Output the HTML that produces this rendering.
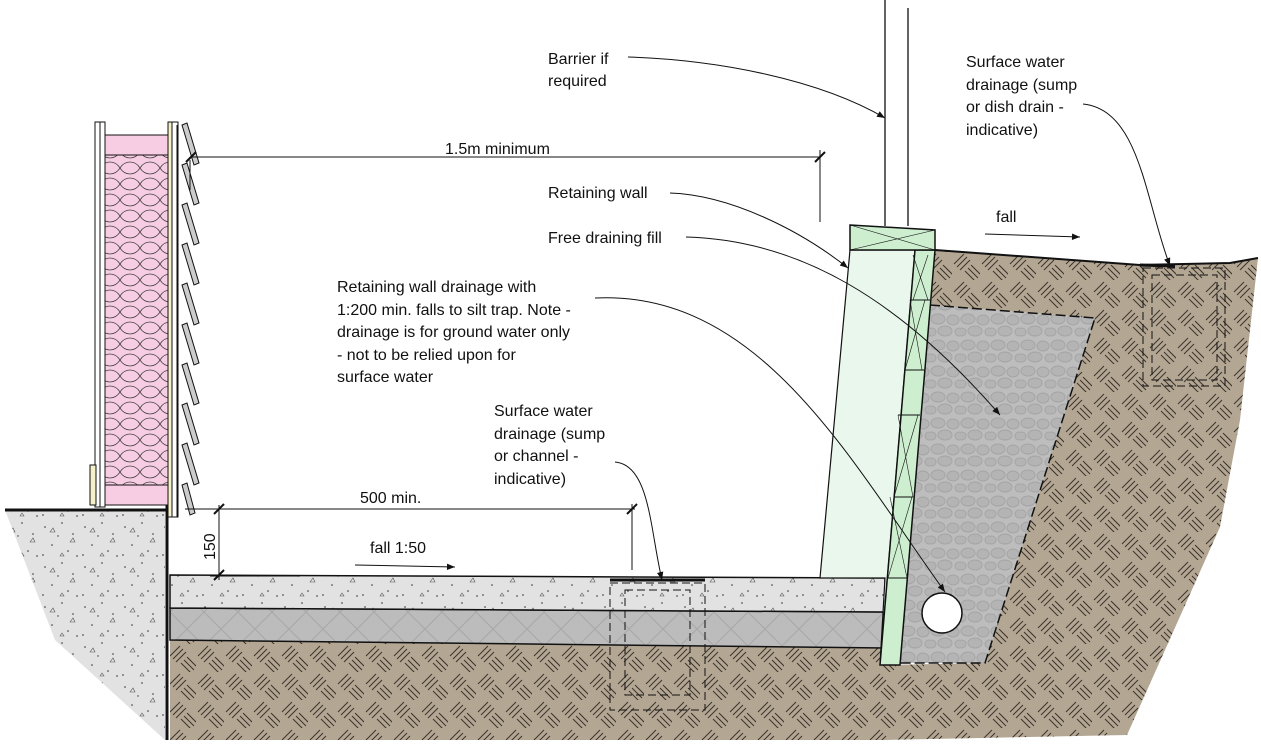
<!DOCTYPE html>
<html><head><meta charset="utf-8"><style>
html,body{margin:0;padding:0;background:#fff;}
svg{display:block}
text{font-family:"Liberation Sans",sans-serif;font-size:16px;fill:#111}
</style></head><body>
<svg width="1261" height="749" viewBox="0 0 1261 749" xmlns="http://www.w3.org/2000/svg">
<defs>
<pattern id="soil" width="28" height="28" patternUnits="userSpaceOnUse">
<rect width="28" height="28" fill="#b3a794"/>
<g stroke="#3a332b" stroke-width="1">
<line x1="2" y1="12" x2="12" y2="2"/><line x1="5" y1="15" x2="15" y2="5"/><line x1="8" y1="18" x2="18" y2="8"/>
<line x1="16" y1="16" x2="26" y2="26"/><line x1="19" y1="13" x2="29" y2="23"/><line x1="13" y1="19" x2="23" y2="29"/>
</g></pattern>
<pattern id="conc" width="40" height="40" patternUnits="userSpaceOnUse">
<rect width="40" height="40" fill="#e2e2e2"/>
<g fill="#333"><circle cx="5" cy="7" r=".8"/><circle cx="22" cy="3" r=".8"/><circle cx="33" cy="14" r=".8"/><circle cx="12" cy="25" r=".8"/><circle cx="28" cy="31" r=".8"/><circle cx="37" cy="36" r=".8"/><circle cx="3" cy="35" r=".8"/><circle cx="18" cy="16" r=".7"/></g>
<path d="M10 12 l3 -4 l2 4 z M30 22 l3 -4 l2 4 z M20 36 l2 -3 l2 3z" fill="none" stroke="#555" stroke-width=".6"/>
</pattern>
<pattern id="stone" width="30" height="26" patternUnits="userSpaceOnUse">
<rect width="30" height="26" fill="#bdbdbd"/>
<g fill="#b4b4b4" stroke="#a5a5a5" stroke-width="1"><ellipse cx="8" cy="7" rx="7" ry="5"/><ellipse cx="23" cy="8" rx="6" ry="5"/><ellipse cx="15" cy="19" rx="7" ry="5"/><ellipse cx="2" cy="20" rx="4" ry="4"/><ellipse cx="29" cy="20" rx="4" ry="4"/></g>
</pattern>
<pattern id="slab" width="34" height="34" patternUnits="userSpaceOnUse">
<rect width="34" height="34" fill="#bcbcbc"/>
<path d="M0 0 L34 34 M34 0 L0 34" stroke="#a8a8a8" stroke-width="1"/>
</pattern>
<pattern id="ins" width="20" height="16" patternUnits="userSpaceOnUse">
<rect width="20" height="16" fill="#f7cde3"/>
<path d="M0 8 C5 0 15 0 20 8 C15 16 5 16 0 8" fill="none" stroke="#444" stroke-width=".8"/>
</pattern>
<marker id="ar" viewBox="0 0 10 10" refX="10" refY="5" markerWidth="10" markerHeight="8" orient="auto-start-reverse"><path d="M0 1 L10 5 L0 9 z" fill="#111"/></marker>
</defs>

<!-- left foundation concrete -->
<path d="M5 510 L165 510 L165 740 L55 640 Z" fill="url(#conc)"/>
<!-- bottom soil -->
<path d="M170 640 L885 648 L885 740 L170 740 Z" fill="url(#soil)"/>
<!-- gray band -->
<path d="M170 608 L885 612 L885 648 L170 640 Z" fill="url(#slab)" stroke="#111" stroke-width="1.5"/>
<!-- slab concrete -->
<path d="M170 575 L885 578 L885 612 L170 608 Z" fill="url(#conc)" stroke="#111" stroke-width="1.5"/>
<!-- right soil -->
<path d="M935 250 L1140 265 L1230 263 L1258 258 L1240 420 L1220 527 L1127 735 L885 740 L885 665 L985 663 L1095 318 L930 305 Z" fill="url(#soil)"/>
<path d="M935 250 L1140 265 L1230 263 L1258 258" fill="none" stroke="#111" stroke-width="2"/>
<!-- free draining fill -->
<path d="M930 305 L1095 318 L985 663 L900 663 Z" fill="url(#stone)" stroke="#111" stroke-width="1.5" stroke-dasharray="10 4"/>
<circle cx="942" cy="613" r="20" fill="#fff" stroke="#111" stroke-width="1.5"/>
<!-- retaining wall -->
<path d="M820 578 L850 250 L915 250 L880 665 L885 578 Z" fill="#eaf7ec" stroke="#111" stroke-width="1.2"/>
<path d="M915 250 L935 250 L900 665 L880 665 Z" fill="#cdeecf" stroke="#111" stroke-width="1.5"/>
<g stroke="#111" stroke-width="1">
<line x1="911" y1="300" x2="930" y2="300"/><line x1="905" y1="370" x2="925" y2="370"/><line x1="898" y1="415" x2="920" y2="415"/><line x1="894" y1="497" x2="913" y2="497"/><line x1="888" y1="578" x2="907" y2="578"/>
<line x1="913" y1="255" x2="928" y2="300" stroke-width=".6"/><line x1="928" y1="255" x2="913" y2="300" stroke-width=".6"/>
<line x1="910" y1="300" x2="922" y2="370" stroke-width=".6"/><line x1="925" y1="300" x2="905" y2="370" stroke-width=".6"/>
<line x1="898" y1="415" x2="913" y2="497" stroke-width=".6"/><line x1="918" y1="415" x2="894" y2="497" stroke-width=".6"/>
<line x1="890" y1="497" x2="907" y2="578" stroke-width=".6"/><line x1="912" y1="497" x2="888" y2="578" stroke-width=".6"/>
</g>
<path d="M850 225 L935 230 L935 250 L850 250 Z" fill="#cdeecf" stroke="#111" stroke-width="1.5"/>
<path d="M850 225 L935 250 M935 230 L850 250" stroke="#111" stroke-width=".6"/>
<!-- barrier post -->
<line x1="885" y1="0" x2="885" y2="226" stroke="#111" stroke-width="1.3"/>
<line x1="908" y1="8" x2="908" y2="226" stroke="#111" stroke-width="1.3"/>
<!-- sumps -->
<rect x="1143" y="268" width="82" height="118" fill="none" stroke="#111" stroke-dasharray="8 4"/>
<rect x="1152" y="275" width="65" height="105" fill="none" stroke="#111" stroke-dasharray="8 4"/>
<line x1="1140" y1="265" x2="1175" y2="266" stroke="#111" stroke-width="3"/>
<rect x="610" y="583" width="95" height="127" fill="none" stroke="#111" stroke-dasharray="8 4"/>
<rect x="625" y="590" width="65" height="105" fill="none" stroke="#111" stroke-dasharray="8 4"/>
<line x1="610" y1="580" x2="705" y2="580" stroke="#111" stroke-width="3"/>
<!-- left vertical -->
<line x1="167" y1="505" x2="167" y2="740" stroke="#111" stroke-width="3"/>
<line x1="5" y1="510" x2="170" y2="510" stroke="#111" stroke-width="3"/>
<!-- house wall -->
<rect x="95" y="122" width="5" height="385" fill="#fff" stroke="#111"/>
<rect x="100" y="122" width="5" height="385" fill="#fff" stroke="#111"/>
<rect x="105" y="135" width="63" height="370" fill="url(#ins)" stroke="#111"/>
<rect x="105" y="135" width="63" height="20" fill="#f7cde3" stroke="#111"/>
<rect x="105" y="485" width="63" height="20" fill="#f7cde3" stroke="#111"/>
<rect x="168" y="122" width="4" height="395" fill="#f4f0c8" stroke="#111"/>
<rect x="172" y="122" width="6" height="395" fill="#fff" stroke="#111"/>
<rect x="90" y="465" width="6" height="40" fill="#f4f0c8" stroke="#111"/>
<g fill="#ccc" stroke="#111">
<path d="M182 125 l5 -2 l12 40 l-5 2z"/><path d="M182 165 l5 -2 l12 40 l-5 2z"/><path d="M182 205 l5 -2 l12 40 l-5 2z"/><path d="M182 245 l5 -2 l12 40 l-5 2z"/><path d="M182 285 l5 -2 l12 40 l-5 2z"/><path d="M182 325 l5 -2 l12 40 l-5 2z"/><path d="M182 365 l5 -2 l12 40 l-5 2z"/><path d="M182 405 l5 -2 l12 40 l-5 2z"/><path d="M182 445 l5 -2 l12 40 l-5 2z"/><path d="M182 485 l5 -2 l8 30 l-5 2z"/>
</g>
<line x1="177" y1="125" x2="177" y2="517" stroke="#111"/>
<!-- dimensions -->
<g stroke="#111" stroke-width="1">
<line x1="190" y1="157" x2="820" y2="157"/>
<line x1="820" y1="150" x2="820" y2="222"/>
<line x1="186" y1="162" x2="196" y2="152" stroke-width="2"/><line x1="815" y1="162" x2="825" y2="152" stroke-width="2"/>
<line x1="190" y1="160" x2="190" y2="190"/>
<line x1="185" y1="509" x2="635" y2="509"/>
<line x1="632" y1="504" x2="632" y2="570"/>
<line x1="214" y1="514" x2="224" y2="504" stroke-width="2"/><line x1="627" y1="514" x2="637" y2="504" stroke-width="2"/>
<line x1="219" y1="505" x2="219" y2="580"/>
<line x1="214" y1="580" x2="224" y2="570" stroke-width="2"/>
<line x1="210" y1="576" x2="300" y2="576"/>
</g>
<!-- fall arrows -->
<line x1="355" y1="565" x2="455" y2="567" stroke="#111" marker-end="url(#ar)"/>
<line x1="985" y1="234" x2="1080" y2="237" stroke="#111" marker-end="url(#ar)"/>
<!-- leaders -->
<g fill="none" stroke="#111" stroke-width="1">
<path d="M628 57 C720 60 820 80 885 118" marker-end="url(#ar)"/>
<path d="M670 193 C730 195 800 230 848 268" marker-end="url(#ar)"/>
<path d="M686 237 C800 240 900 300 1000 415" marker-end="url(#ar)"/>
<path d="M595 298 C760 290 850 460 945 592" marker-end="url(#ar)"/>
<path d="M615 462 C650 465 650 530 662 580" marker-end="url(#ar)"/>
<path d="M1083 104 C1140 110 1145 200 1170 266" marker-end="url(#ar)"/>
</g>
<!-- text -->
<text x="548" y="64">Barrier if</text><text x="548" y="86">required</text>
<text x="966" y="67">Surface water</text><text x="966" y="90">drainage (sump</text><text x="966" y="112">or dish drain -</text><text x="966" y="135">indicative)</text>
<text x="445" y="154">1.5m minimum</text>
<text x="548" y="198">Retaining wall</text>
<text x="996" y="222">fall</text>
<text x="548" y="243">Free draining fill</text>
<text x="337" y="292">Retaining wall drainage with</text>
<text x="337" y="315">1:200 min. falls to silt trap. Note -</text>
<text x="337" y="337">drainage is for ground water only</text>
<text x="337" y="360">- not to be relied upon for</text>
<text x="337" y="382">surface water</text>
<text x="494" y="416">Surface water</text><text x="494" y="439">drainage (sump</text><text x="494" y="461">or channel -</text><text x="494" y="484">indicative)</text>
<text x="360" y="503">500 min.</text>
<text x="370" y="553">fall 1:50</text>
<text x="0" y="0" transform="translate(215 560) rotate(-90)">150</text>
</svg>
</body></html>
